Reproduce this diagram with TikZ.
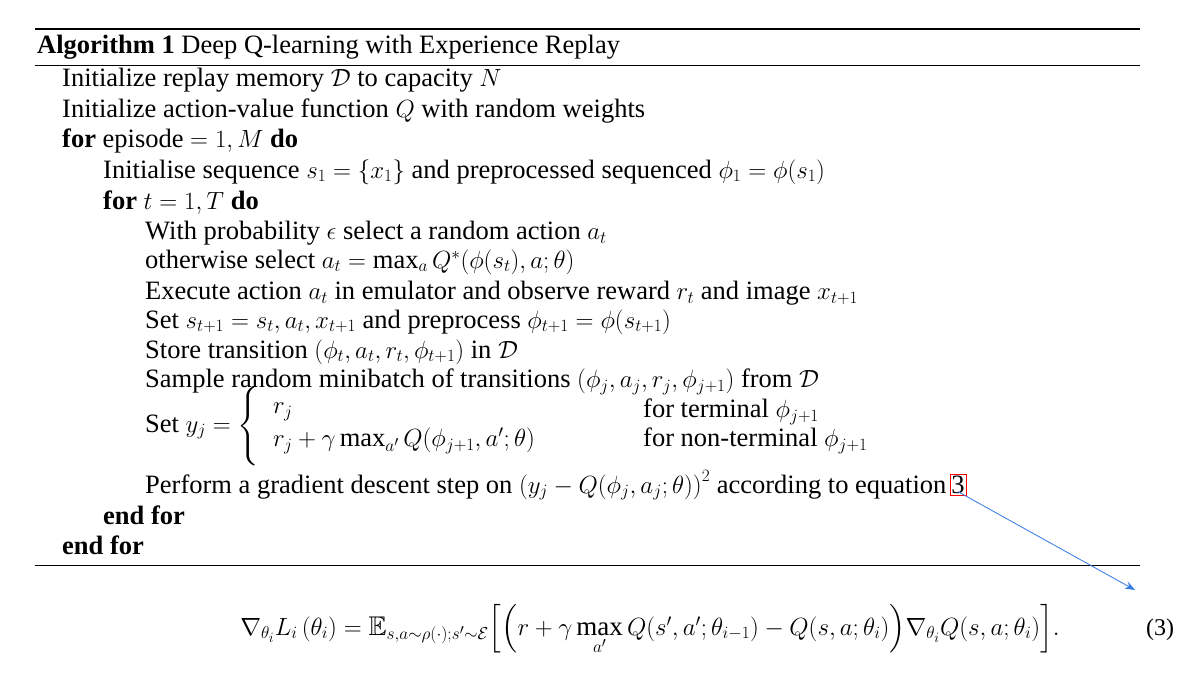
\documentclass[tikz,border=0pt]{standalone}
\usetikzlibrary{arrows.meta}
\usepackage{amsmath,amssymb}
\usepackage{fontspec}
\setmainfont{Liberation Serif}
\definecolor{arrblue}{RGB}{50,120,230}
\begin{document}
\begin{tikzpicture}[x=1pt,y=-1pt,
  ln/.style={anchor=west,inner sep=0pt,font=\fontsize{26.5}{30}\selectfont}]
\useasboundingbox (0,0) rectangle (1200,684);
\draw[line width=1.2pt] (35,29) -- (1140,29);
\draw[line width=0.6pt] (35,65) -- (1140,65);
\draw[line width=0.6pt] (35,565) -- (1140,565);
\node[ln] (t) at (37,47) {\textbf{Algorithm 1} Deep Q-learning with Experience Replay};
\node[ln] (l1) at (62,80) {Initialize replay memory $\mathcal{D}$ to capacity $N$};
\node[ln] (l2) at (62,111) {Initialize action-value function $Q$ with random weights};
\node[ln] (l3) at (62,141) {\textbf{for} episode $=1,M$ \textbf{do}};
\node[ln] (l4) at (103,172) {Initialise sequence $s_1=\{x_1\}$ and preprocessed sequenced $\phi_1=\phi(s_1)$};
\node[ln] (l5) at (103,203) {\textbf{for} $t=1,T$ \textbf{do}};
\node[ln] (l6) at (145,233) {With probability $\epsilon$ select a random action $a_t$};
\node[ln] (l7) at (145,262) {otherwise select $a_t=\max_a Q^*(\phi(s_t),a;\theta)$};
\node[ln] (l8) at (145,293) {Execute action $a_t$ in emulator and observe reward $r_t$ and image $x_{t+1}$};
\node[ln] (l9) at (145,322) {Set $s_{t+1}=s_t,a_t,x_{t+1}$ and preprocess $\phi_{t+1}=\phi(s_{t+1})$};
\node[ln] (l10) at (145,352) {Store transition $(\phi_t,a_t,r_t,\phi_{t+1})$ in $\mathcal{D}$};
\node[ln] (l11) at (145,382) {Sample random minibatch of transitions $(\phi_j,a_j,r_j,\phi_{j+1})$ from $\mathcal{D}$};
\node[ln] (c0) at (145,426) {Set $y_j=\Bigg\{$};
\node[ln] (c1) at (273,412) {$r_j$};
\node[ln] (c2) at (273,441) {$r_j+\gamma\max_{a'}Q(\phi_{j+1},a';\theta)$};
\node[ln] (c3) at (643,412) {for terminal $\phi_{j+1}$};
\node[ln] (c4) at (643,441) {for non-terminal $\phi_{j+1}$};
\node[ln] (l12) at (145,485) {Perform a gradient descent step on $\left(y_j-Q(\phi_j,a_j;\theta)\right)^2$ according to equation};
\node[anchor=west,inner sep=1.5pt,draw=red,line width=0.5pt,font=\fontsize{26.5}{30}\selectfont] (ref) at ([xshift=3pt]l12.east) {3};
\node[ln] (l13) at (103,515) {\textbf{end for}};
\node[ln] (l14) at (62,545) {\textbf{end for}};
\node[anchor=center,inner sep=0pt,font=\fontsize{27}{30}\selectfont] (eq) at (650,630)
 {$\nabla_{\theta_i}L_i\left(\theta_i\right)=\mathbb{E}_{s,a\sim\rho(\cdot);s'\sim\mathcal{E}}\Big[\Big(r+\gamma\max\limits_{a'}Q(s',a';\theta_{i-1})-Q(s,a;\theta_i)\Big)\nabla_{\theta_i}Q(s,a;\theta_i)\Big].$};
\node[ln,anchor=center,font=\fontsize{24}{28}\selectfont] (en) at (1160,630) {(3)};
\coordinate (tip) at (1135,590);
\draw[-{Stealth[length=10pt]},color=arrblue,line width=0.8pt] ([yshift=4pt]ref.south) -- (tip);
\end{tikzpicture}
\end{document}
